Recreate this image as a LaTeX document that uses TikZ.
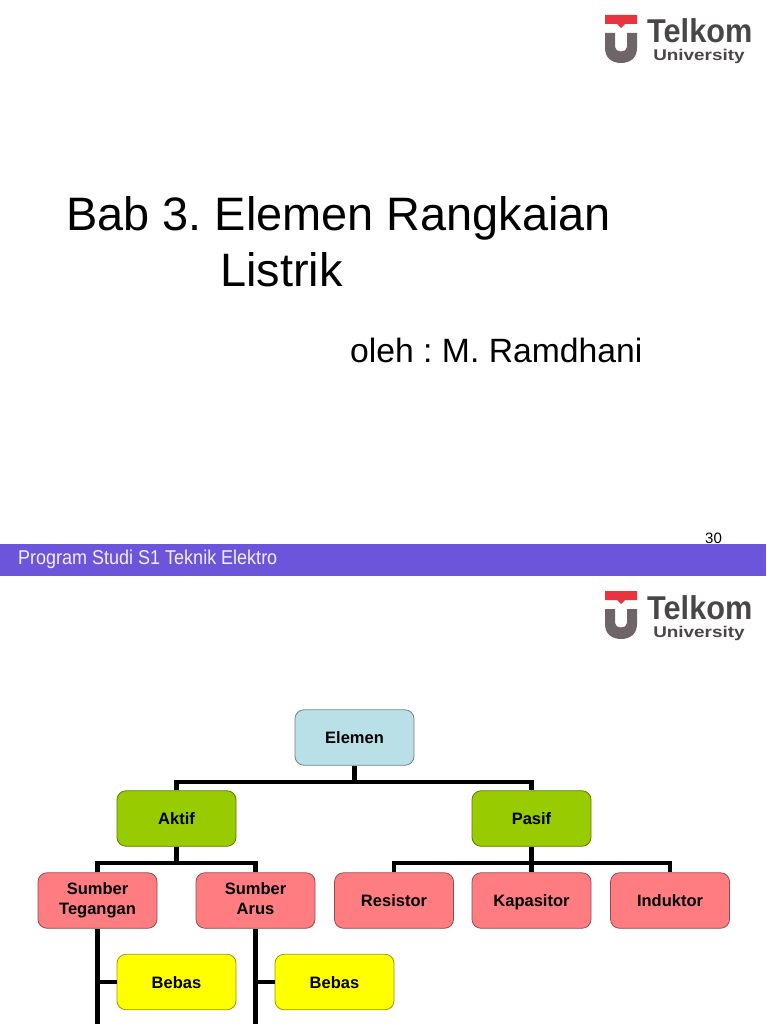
\documentclass[tikz,border=0pt]{standalone}
\usepackage{fontspec}
\setmainfont{Liberation Sans}
\frenchspacing
\definecolor{barpurple}{HTML}{6C55DB}
\definecolor{cblue}{HTML}{B9E0E6}
\definecolor{cgreen}{HTML}{99CC00}
\definecolor{cred}{HTML}{FF7C80}
\definecolor{cyellow}{HTML}{FFFF00}
\definecolor{logored}{HTML}{E8343F}
\definecolor{logogray}{HTML}{6F6468}
\definecolor{logotext}{HTML}{4A4548}
\tikzset{
  x=1pt,y=-1pt,
  box/.style={rounded corners=9pt,minimum width=119pt,minimum height=55.5pt,inner sep=0pt,align=center,
    font=\fontsize{16.5}{20.5}\selectfont\bfseries,draw=#1!60!black,line width=0.8pt,fill=#1,
    execute at begin node={\rule{0pt}{16pt}},execute at end node={\rule[-4pt]{0pt}{4pt}}},
  conn/.style={line width=4.6pt,line cap=butt,black},
  slide/.style={anchor=base west,inner sep=0pt,black},
  logotxt/.style={anchor=base west,inner sep=0pt,logotext},
  telkomlogo/.pic={
    \fill[logored] (605,15) -- (637,15) -- (637,24) -- (625,24) -- (621,28) -- (617,24) -- (605,24) -- cycle;
    \fill[logogray] (605,33) -- (615,33) -- (615,47) .. controls (615,53) and (627,53) .. (627,47) -- (627,33) -- (637,33) -- (637,48) .. controls (637,58) and (630,63) .. (621,63) .. controls (612,63) and (605,58) .. (605,48) -- cycle;
    \node[logotxt,font=\fontsize{33}{33}\selectfont\bfseries,xscale=0.93] (-telkom) at (647,43) {Telkom};
    \node[logotxt,font=\fontsize{15.5}{15.5}\selectfont\bfseries,xscale=1.22] (-univ) at (653,61) {University};
  }
}
\begin{document}
\begin{tikzpicture}
\useasboundingbox (0,0) rectangle (768,1024);
\fill[white] (0,0) rectangle (768,1024);
% slide one
\pic (logoa) at (0,0) {telkomlogo};
\node[slide,font=\fontsize{46.9}{46.9}\selectfont] (title1) at (66,231) {Bab 3. Elemen Rangkaian};
\node[slide,font=\fontsize{46.9}{46.9}\selectfont] (title2) at (220,286) {Listrik};
\node[slide,font=\fontsize{33.7}{33.7}\selectfont] (author) at (350,362) {oleh : M. Ramdhani};
\node[slide,font=\fontsize{15}{15}\selectfont] (pageno) at (705,543) {30};
\fill[barpurple] (0,544) rectangle (766,575.5);
\node[slide,font=\fontsize{20}{20}\selectfont,text=white!90!barpurple,xscale=0.9] (footer) at (18,564) {Program Studi S1 Teknik Elektro};
% slide two
\pic (logob) at (0,576) {telkomlogo};
\node[box=cblue] (elemen) at (354.5,737.5) {Elemen};
\node[box=cgreen] (aktif) at (176.5,818.5) {Aktif};
\node[box=cgreen] (pasif) at (531.5,818.5) {Pasif};
\node[box=cred] (st) at (97.5,900.5) {Sumber\\Tegangan};
\node[box=cred] (sa) at (255.5,900.5) {Sumber\\Arus};
\node[box=cred] (res) at (394,900.5) {Resistor};
\node[box=cred] (kap) at (531.5,900.5) {Kapasitor};
\node[box=cred] (ind) at (670,900.5) {Induktor};
\node[box=cyellow] (b1) at (176.5,982) {Bebas};
\node[box=cyellow] (b2) at (334.5,982) {Bebas};
\coordinate (endst) at (97.5,1024);
\coordinate (endsa) at (255.5,1024);
\draw[conn] (elemen.south) -- (354.5,782);
\draw[conn] (aktif.north) |- (pasif.north |- 0,782) -- (pasif.north);
\draw[conn] (aktif.south) -- (176.5,863);
\draw[conn] (st.north) |- (sa.north |- 0,863) -- (sa.north);
\draw[conn] (pasif.south) -- (kap.north);
\draw[conn] (res.north) |- (ind.north |- 0,863) -- (ind.north);
\draw[conn] (st.south) -- (endst);
\draw[conn] (sa.south) -- (endsa);
\draw[conn] (b1.west) -- (97.5,982);
\draw[conn] (b2.west) -- (255.5,982);
\end{tikzpicture}
\end{document}
